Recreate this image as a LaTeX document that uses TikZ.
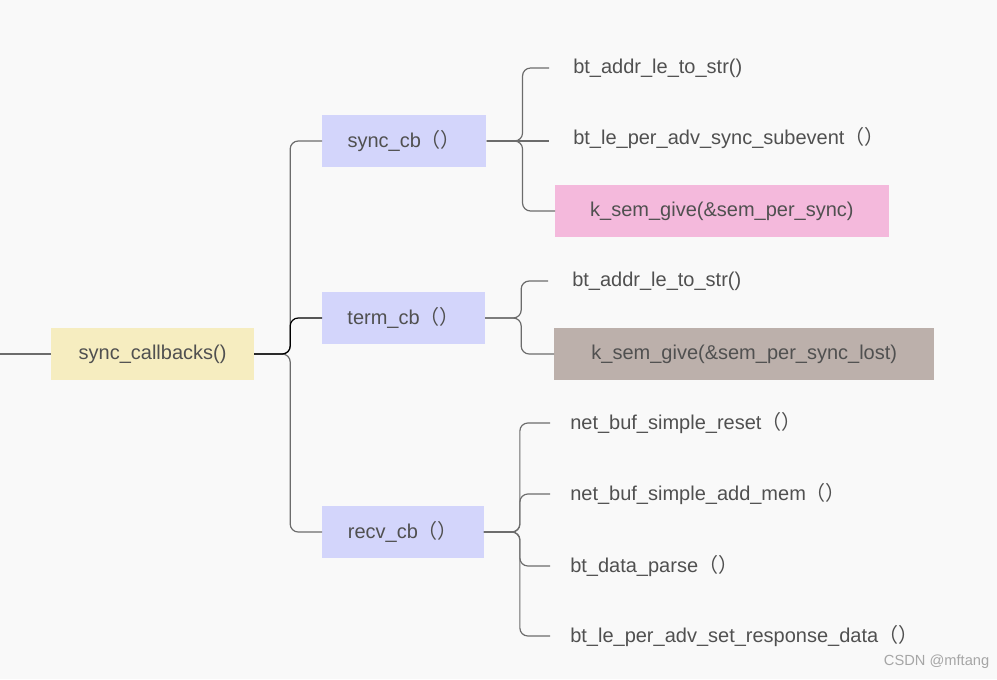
\documentclass[tikz,border=0pt]{standalone}
\usepackage{fontspec}
\setmainfont{Liberation Sans}
\newfontfamily\cjk{Noto Sans CJK SC}
\usetikzlibrary{positioning}
\definecolor{bgc}{HTML}{F9F9F9}
\definecolor{txtc}{HTML}{505050}
\definecolor{rootc}{HTML}{F6EDC0}
\definecolor{cbc}{HTML}{D3D5FB}
\definecolor{pinkc}{HTML}{F4B9DC}
\definecolor{brownc}{HTML}{BCB0AB}
\newcommand{\fp}{{\cjk （）}}
\begin{document}
\begin{tikzpicture}[x=0.75pt,y=-0.75pt,
  every node/.style={font=\fontsize{15}{18}\selectfont, text=txtc},
  box/.style={minimum height=38.5pt, inner xsep=13pt, anchor=west},
  leaf/.style={anchor=west, inner sep=0pt},
  link/.style={draw=gray!85!black, line width=0.9pt, rounded corners=6pt}]

  % background
  \fill[bgc] (0,0) rectangle (997,679);
  \useasboundingbox (0,0) rectangle (997,679);

  % boxes
  \node[box, fill=rootc, minimum width=152pt] (root) at (51,354) {sync\_callbacks()};
  \node[box, fill=cbc, minimum width=123pt] (sync) at (322,141) {sync\_cb\fp};
  \node[box, fill=cbc, minimum width=122pt] (term) at (322,318) {term\_cb\fp};
  \node[box, fill=cbc, minimum width=121pt] (recv) at (322,532) {recv\_cb\fp};
  \node[box, fill=pinkc, minimum width=250pt] (give) at (555,211) {k\_sem\_give(\&sem\_per\_sync)};
  \node[box, fill=brownc, minimum width=285pt] (lost) at (554,354) {k\_sem\_give(\&sem\_per\_sync\_lost)};

  % leaves
  \node[leaf] (addra) at (573,68) {bt\_addr\_le\_to\_str()};
  \node[leaf] (subev) at (573,138) {bt\_le\_per\_adv\_sync\_subevent\fp};
  \node[leaf] (addrb) at (572,281) {bt\_addr\_le\_to\_str()};
  \node[leaf] (reset) at (570,423) {net\_buf\_simple\_reset\fp};
  \node[leaf] (addmem) at (570,494) {net\_buf\_simple\_add\_mem\fp};
  \node[leaf] (parse) at (570,566) {bt\_data\_parse\fp};
  \node[leaf] (resp) at (570,636) {bt\_le\_per\_adv\_set\_response\_data\fp};

  \coordinate (start) at (0,354);

  % connectors
  \draw[link] (start) -- (root.west);
  \draw[link] (root.east) -- ++(36,0) |- (sync.west);
  \draw[link] (root.east) -- ++(36,0) |- (recv.west);
  \draw[link, draw=black] (root.east) -- ++(36,0) |- (term.west);
  \draw[link] (sync.east) -- ++(36,0) |- ([xshift=-18]addra.west);
  \draw[link] (sync.east) -- ([xshift=-18]subev.west |- sync.east);
  \draw[link] (sync.east) -- ++(36,0) |- (give.west);
  \draw[link] (term.east) -- ++(36,0) |- ([xshift=-18]addrb.west);
  \draw[link] (term.east) -- ++(36,0) |- (lost.west);
  \foreach \n in {reset,addmem,parse,resp}
    \draw[link] (recv.east) -- ++(36,0) |- ([xshift=-15]\n.west);

  % watermark
  \node[anchor=east, font=\fontsize{11}{13}\selectfont, text=gray!70] (mark) at (994,662) {CSDN @mftang};
\end{tikzpicture}
\end{document}
